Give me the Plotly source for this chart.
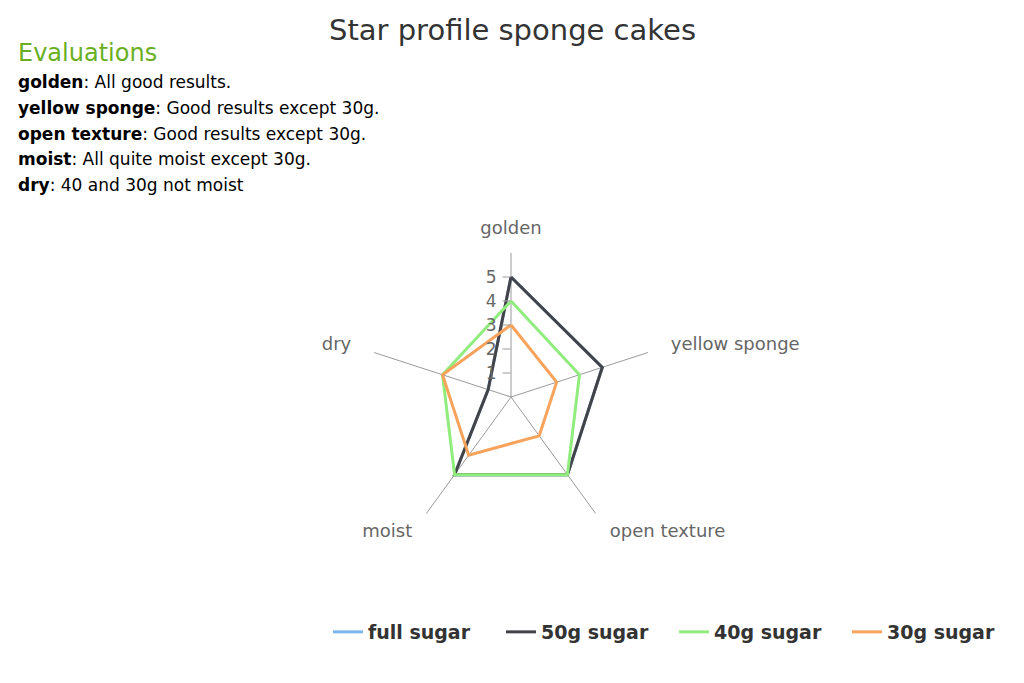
import plotly.graph_objects as go

categories = ["golden", "yellow sponge", "open texture", "moist", "dry"]
series_names = ["full sugar", "50g sugar", "40g sugar", "30g sugar"]
full_sugar = [5, 4, 4, 4, 1]
sugar_50g = [5, 4, 4, 4, 1]
sugar_40g = [4, 3, 4, 4, 3]
sugar_30g = [3, 2, 2, 3, 3]
colors = ["#7cb5ec", "#434348", "#90ed7d", "#f7a35c"]
radial_ticks = [1, 2, 3, 4, 5]
axis_max = 6

title_text = "Star profile sponge cakes"
notes_heading = "Evaluations"
note_terms = ["golden", "yellow sponge", "open texture", "moist", "dry"]
note_texts = [": All good results.", ": Good results except 30g.",
              ": Good results except 30g.", ": All quite moist except 30g.",
              ": 40 and 30g not moist"]

FONT = "DejaVu Sans"
W, H = 1024, 683
OFF = 8  # page body margin


def px(x):
    return (x - OFF) / W


def py(y):
    return 1 - (y - OFF) / H


fig = go.Figure()

# spokes from the centre to the axis maximum, one per category
spoke_r, spoke_t = [], []
for c in categories:
    spoke_r += [0, axis_max, None]
    spoke_t += [c, c, c]
fig.add_trace(go.Scatterpolar(
    r=spoke_r, theta=spoke_t, mode="lines", line=dict(color="#9a9a9a", width=1),
    showlegend=False, hoverinfo="skip", connectgaps=False,
))

for name, vals, col in zip(series_names, [full_sugar, sugar_50g, sugar_40g, sugar_30g], colors):
    fig.add_trace(go.Scatterpolar(
        r=vals + vals[:1], theta=categories + categories[:1],
        mode="lines", name=name, line=dict(color=col, width=3),
    ))

# category labels placed just outside the spokes
label_r = 7.0
fig.add_trace(go.Scatterpolar(
    r=[label_r] * len(categories), theta=categories, mode="text", text=categories,
    textposition=["middle center", "middle right", "middle right", "middle left", "middle left"],
    textfont=dict(size=18, color="#666666", family=FONT),
    cliponaxis=False, showlegend=False, hoverinfo="skip",
))

cx, cy = 511, 397
unit = 24.0
r_range = 7.6
rad = unit * r_range
fig.update_layout(
    width=W, height=H,
    margin=dict(l=0, r=0, t=0, b=0),
    paper_bgcolor="white", plot_bgcolor="white",
    font=dict(family=FONT, color="#333333"),
    showlegend=True,
    polar=dict(
        domain=dict(x=[px(cx - rad), px(cx + rad)],
                    y=[py(cy + rad), py(cy - rad)]),
        bgcolor="rgba(0,0,0,0)",
        radialaxis=dict(range=[0, r_range], tickvals=radial_ticks, showgrid=False,
                        showline=False,
                        ticks="outside", ticklen=8, tickcolor="#9a9a9a",
                        angle=90, side="counterclockwise", tickangle=90,
                        tickfont=dict(size=17, color="#666666", family=FONT)),
        angularaxis=dict(direction="clockwise", rotation=90, showline=False,
                         showgrid=False, ticks="", showticklabels=False),
    ),
    legend=dict(orientation="h", xanchor="left", x=px(328), yanchor="middle",
                y=py(632), font=dict(size=19, color="#333333", family=FONT, weight="bold"),
                itemwidth=30, entrywidth=128, entrywidthmode="pixels"),
)

fig.add_annotation(text=title_text, xref="paper", yref="paper", x=px(512), y=py(30),
                   xanchor="center", yanchor="middle", showarrow=False,
                   font=dict(size=29, color="#333333", family=FONT))
fig.add_annotation(text=notes_heading, xref="paper", yref="paper", x=px(16), y=py(53),
                   xanchor="left", yanchor="middle", showarrow=False,
                   font=dict(size=24, color="#6aaf23", family=FONT))
for i, (term, txt) in enumerate(zip(note_terms, note_texts)):
    fig.add_annotation(text="<b>" + term + "</b>" + txt, xref="paper", yref="paper",
                       x=px(16), y=py(82 + i * 25.8),
                       xanchor="left", yanchor="middle", showarrow=False, align="left",
                       font=dict(size=17, color="#000000", family=FONT))

fig.write_html("out.html")
